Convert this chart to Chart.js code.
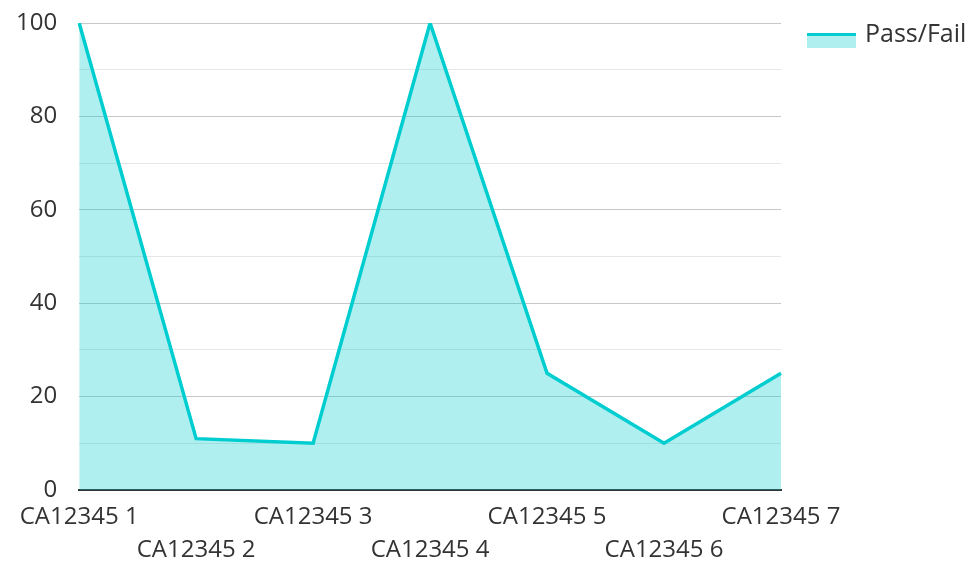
<!DOCTYPE html>
<html>
<head>
<meta charset="utf-8">
<script src="https://cdn.jsdelivr.net/npm/chart.js@4"></script>
<style>
  html, body { margin: 0; padding: 0; background: #fff; }
  #wrap { width: 971px; height: 562px; }
</style>
</head>
<body>
<div id="wrap"><canvas id="c" width="971" height="562"></canvas></div>
<script>
const categories = ['CA12345 1', 'CA12345 2', 'CA12345 3', 'CA12345 4', 'CA12345 5', 'CA12345 6', 'CA12345 7'];
const passFail = [100, 11, 10, 100, 25, 10, 25];
const seriesName = 'Pass/Fail';
const yMin = 0, yMax = 100, yStep = 10, yLabelStep = 20;

const lineColor = '#00CDCF';
const fillColor = 'rgba(0, 204, 204, 0.31)';
const textColor = '#333333';
const fontFamily = '"Open Sans", "Noto Sans", sans-serif';

// Legend swatch: tinted box with a solid line along its top edge,
// drawn next to the text that the built-in legend lays out.
const swatch = { dx: 4, w: 49, h: 15, dy: -1.5, line: 3 };
const legendSwatch = {
  id: 'legendSwatch',
  afterDraw(chart) {
    const legend = chart.legend;
    if (!legend || !legend.legendHitBoxes) return;
    const ctx = chart.ctx;
    legend.legendHitBoxes.forEach(hb => {
      const x = hb.left + swatch.dx;
      const y = hb.top + hb.height / 2 + swatch.dy;
      ctx.save();
      ctx.fillStyle = fillColor;
      ctx.fillRect(x, y, swatch.w, swatch.h);
      ctx.strokeStyle = lineColor;
      ctx.lineWidth = swatch.line;
      ctx.beginPath();
      ctx.moveTo(x, y + swatch.line / 2);
      ctx.lineTo(x + swatch.w, y + swatch.line / 2);
      ctx.stroke();
      ctx.restore();
    });
  }
};

new Chart(document.getElementById('c'), {
  type: 'line',
  data: {
    labels: categories,
    datasets: [{
      label: seriesName,
      data: passFail,
      borderColor: lineColor,
      backgroundColor: fillColor,
      borderWidth: 3.5,
      fill: 'origin',
      tension: 0,
      pointRadius: 0,
      pointHoverRadius: 0
    }]
  },
  options: {
    responsive: false,
    animation: false,
    layout: { padding: { top: 0, left: 5, right: 0, bottom: -5 } },
    plugins: {
      tooltip: { enabled: false },
      legend: {
        position: 'right',
        align: 'start',
        maxWidth: 190,
        labels: {
          boxWidth: 49.5,
          boxHeight: 15,
          padding: 22,
          color: textColor,
          font: { family: fontFamily, size: 25 },
          generateLabels(chart) {
            return chart.data.datasets.map((ds, i) => ({
              text: ds.label,
              fillStyle: 'rgba(0,0,0,0)',
              strokeStyle: 'rgba(0,0,0,0)',
              lineWidth: 0,
              fontColor: textColor,
              datasetIndex: i,
              hidden: false
            }));
          }
        }
      }
    },
    scales: {
      x: {
        offset: false,
        grid: {
          display: true,
          drawOnChartArea: false,
          drawTicks: true,
          tickLength: 11,
          tickColor: 'rgba(0,0,0,0)'
        },
        border: { display: true, color: '#333333', width: 2 },
        ticks: {
          autoSkip: false,
          maxRotation: 0,
          minRotation: 0,
          padding: 0,
          color: textColor,
          font: { family: fontFamily, size: 24, lineHeight: 1.375 },
          callback(value, index) {
            const label = this.getLabelForValue(value);
            return index % 2 === 1 ? ['', label] : label;
          }
        }
      },
      y: {
        min: yMin,
        max: yMax,
        border: { display: false },
        grid: {
          drawTicks: true,
          tickLength: 11,
          tickColor: 'rgba(0,0,0,0)',
          lineWidth: 1,
          color(ctx) {
            const v = ctx.tick ? ctx.tick.value : null;
            return v % yLabelStep === 0 ? '#c8c8c8' : '#e6e6e6';
          }
        },
        ticks: {
          stepSize: yStep,
          padding: 11,
          color: textColor,
          font: { family: fontFamily, size: 24, lineHeight: 1.0 },
          callback(value) {
            return value % yLabelStep === 0 ? String(value) : '';
          }
        }
      }
    }
  },
  plugins: [legendSwatch]
});
</script>
</body>
</html>
